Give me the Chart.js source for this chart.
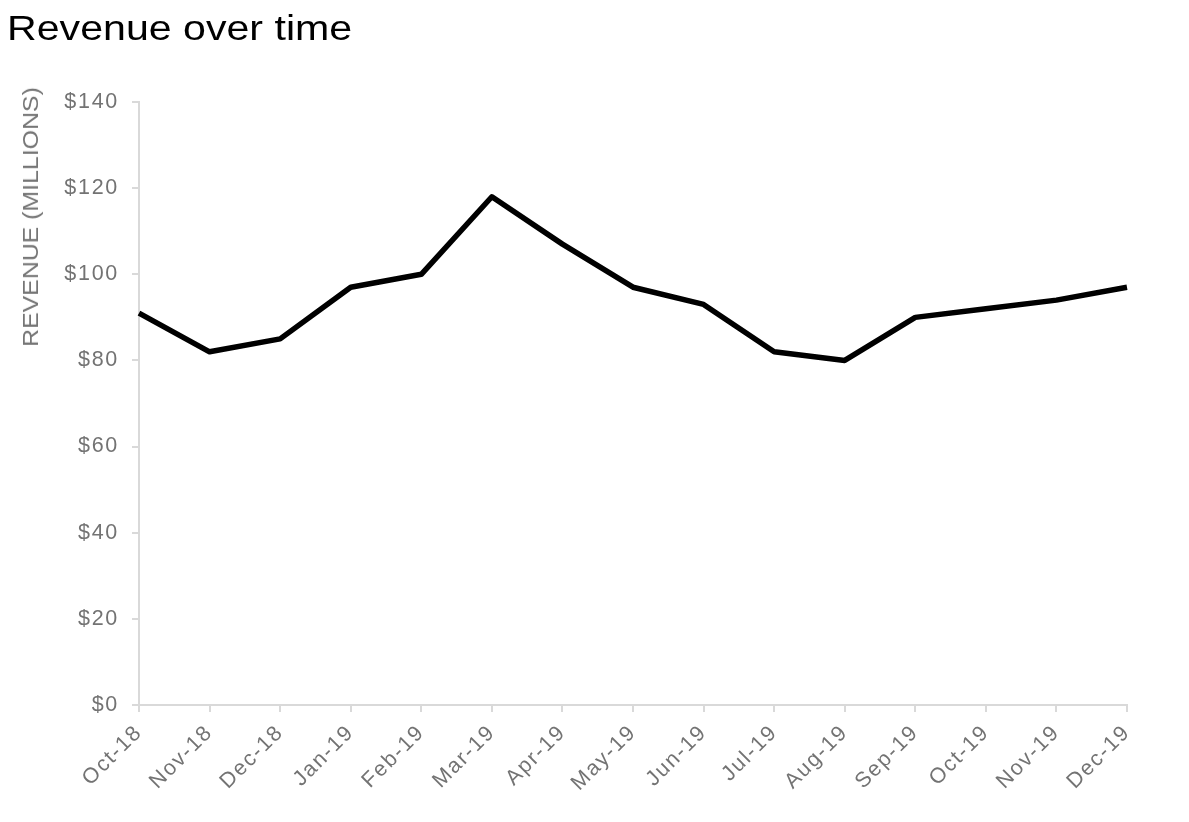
<!DOCTYPE html>
<html>
<head>
<meta charset="utf-8">
<script src="https://cdn.jsdelivr.net/npm/chart.js@4/dist/chart.umd.min.js"></script>
<style>
  html, body { margin: 0; padding: 0; background: #fff; }
  #wrap { position: relative; width: 1189px; height: 822px; }
  #title { position: absolute; left: 7px; top: 8px; font-family: "Liberation Sans", Arial, sans-serif; font-size: 35px; color: #000; line-height: 40px; white-space: nowrap; transform: scaleX(1.175); transform-origin: 0 0; }
  #ytitle { position: absolute; left: 31px; top: 217px; transform: translate(-50%, -50%) rotate(-90deg) scaleX(1.13); font-family: "Liberation Sans", Arial, sans-serif; font-size: 22px; color: #767676; white-space: nowrap; line-height: 24px; }
  canvas { position: absolute; left: 0; top: 0; }
</style>
</head>
<body>
<div id="wrap">
  <canvas id="c" width="1189" height="822"></canvas>
  <div id="title">Revenue over time</div>
  <div id="ytitle">REVENUE (MILLIONS)</div>
</div>
<script>
const categories = ["Oct-18","Nov-18","Dec-18","Jan-19","Feb-19","Mar-19","Apr-19","May-19","Jun-19","Jul-19","Aug-19","Sep-19","Oct-19","Nov-19","Dec-19"];
const revenue = [91, 82, 85, 97, 100, 118, 107, 97, 93, 82, 80, 90, 92, 94, 97];
const yTickValues = [0, 20, 40, 60, 80, 100, 120, 140];

const spacingPlugin = {
  id: 'spacing',
  beforeUpdate(chart) { chart.ctx.letterSpacing = '1.7px'; },
  beforeDraw(chart) { chart.ctx.letterSpacing = '1.7px'; }
};

const axisColor = '#d9d9d9';
const tickColor = '#737373';
const font = { family: '"Liberation Sans", Arial, sans-serif', size: 21.5 };

new Chart(document.getElementById('c'), {
  type: 'line',
  data: {
    labels: categories,
    datasets: [{
      data: revenue,
      borderColor: '#000',
      borderWidth: 5.5,
      pointRadius: 0,
      tension: 0,
      fill: false,
      borderJoinStyle: 'round'
    }]
  },
  options: {
    responsive: false,
    animation: false,
    devicePixelRatio: 1,
    layout: { padding: { top: 102, right: 62, bottom: 0, left: 0 } },
    plugins: { legend: { display: false }, tooltip: { enabled: false }, title: { display: false } },
    scales: {
      x: {
        offset: false,
        grid: { drawOnChartArea: false, drawTicks: true, tickLength: 7, color: axisColor, lineWidth: 2 },
        border: { display: true, color: axisColor, width: 2 },
        ticks: { color: tickColor, font: font, maxRotation: 45, minRotation: 45, padding: 8, autoSkip: false },
        afterFit(scale) { scale.height = 117; }
      },
      y: {
        min: 0, max: 140,
        afterBuildTicks(scale) { scale.ticks = yTickValues.map(v => ({ value: v })); },
        grid: { drawOnChartArea: false, drawTicks: true, tickLength: 7, color: axisColor, lineWidth: 2 },
        border: { display: true, color: axisColor, width: 2 },
        ticks: { color: tickColor, font: font, padding: 13, callback: v => '$' + v },
        afterFit(scale) { scale.width = 139; }
      }
    }
  },
  plugins: [spacingPlugin]
});
</script>
</body>
</html>
